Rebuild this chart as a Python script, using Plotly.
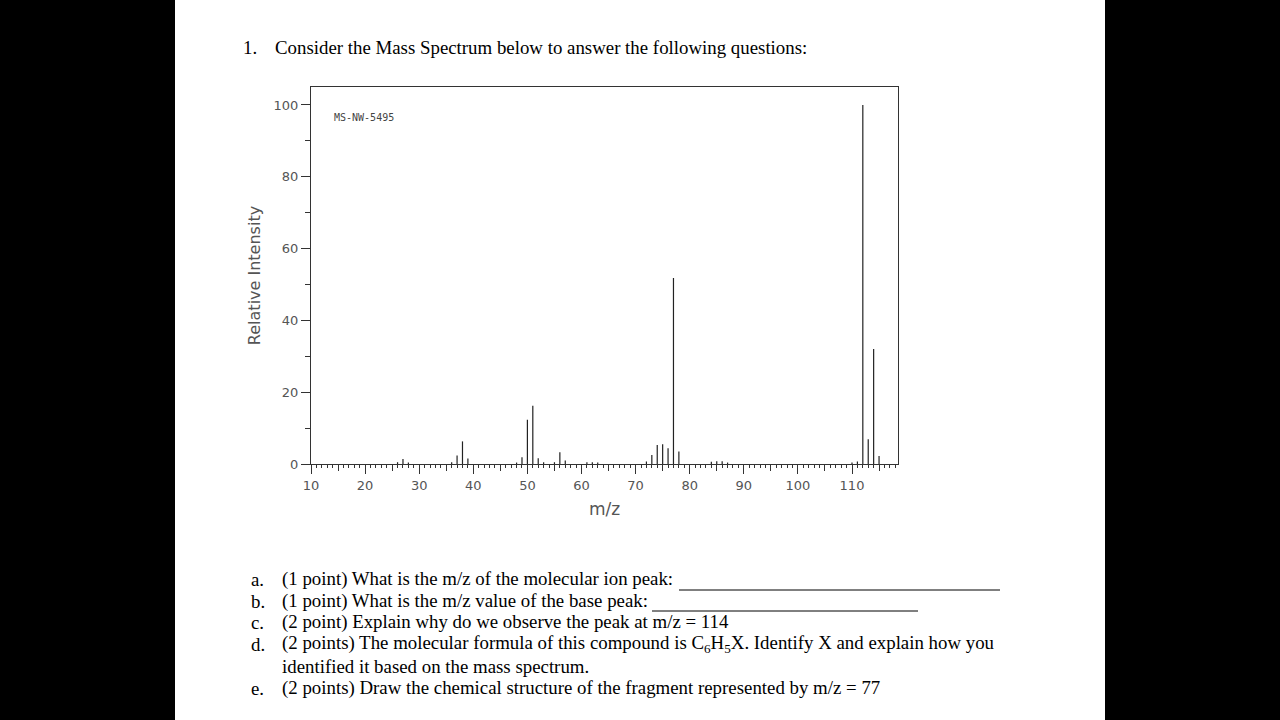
import plotly.graph_objects as go

# ---- data ----
mz = [26, 27, 28, 36, 37, 38, 39, 48, 49, 50, 51, 52, 53, 55, 56, 57, 61, 62, 63,
      72, 73, 74, 75, 76, 77, 78, 84, 85, 86, 87, 110, 111, 112, 113, 114, 115]
intensity = [0.5, 1.4, 0.4, 0.5, 2.4, 6.3, 1.5, 0.4, 1.9, 12.3, 16.2, 1.6, 0.5, 0.5, 3.3, 1.0, 0.5, 0.5, 0.4,
             0.7, 2.5, 5.3, 5.5, 4.4, 51.8, 3.5, 0.6, 0.8, 0.8, 0.4, 0.4, 0.7, 100.0, 6.9, 32.0, 2.2]
y_ticks = [0, 20, 40, 60, 80, 100]
x_ticks = [10, 20, 30, 40, 50, 60, 70, 80, 90, 100, 110]
spectrum_id = "MS-NW-5495"
heading_num = "1."
heading = "Consider the Mass Spectrum below to answer the following questions:"
q_labels = ["a.", "b.", "c.", "d.", "", "e."]
q_texts = [
    "(1 point) What is the m/z of the molecular ion peak:",
    "(1 point) What is the m/z value of the base peak:",
    "(2 point) Explain why do we observe the peak at m/z = 114",
    "(2 points) The molecular formula of this compound is C<sub>6</sub>H<sub>5</sub>X. Identify X and explain how you",
    "identified it based on the mass spectrum.",
    "(2 points) Draw the chemical structure of the fragment represented by m/z = 77",
]

# ---- layout geometry (pixels) ----
L, R, T, B = 311, 898, 87, 464
W, H = 1280, 720
pw, ph = R - L, B - T


def px(x):
    return (x - L) / pw


def py(y):
    return (B - y) / ph


xs, ys = [], []
for m, v in zip(mz, intensity):
    xs += [m, m, None]
    ys += [0, v, None]

fig = go.Figure()
fig.add_trace(go.Scatter(x=xs, y=ys, mode="lines",
                         line=dict(color="#222222", width=1.2),
                         hoverinfo="skip", showlegend=False))
# dummy trace for secondary axis (5-unit ticks)
fig.add_trace(go.Scatter(x=[10], y=[0], xaxis="x2", mode="markers",
                         marker=dict(opacity=0), showlegend=False, hoverinfo="skip"))

axis_font = dict(family="DejaVu Sans, Verdana, sans-serif", size=13, color="#555555")
xrange_ = [10, 10 + pw / 5.41]

fig.update_layout(
    width=W, height=H,
    margin=dict(l=L, r=W - R, t=T, b=H - B, pad=0),
    paper_bgcolor="white", plot_bgcolor="white",
    xaxis=dict(range=xrange_, tickvals=x_ticks, ticks="outside", ticklen=9,
               tickcolor="#333333", tickwidth=1, showline=True, linecolor="#333333",
               linewidth=1, mirror=True, showgrid=False, zeroline=False,
               tickfont=axis_font,
               minor=dict(dtick=1, tick0=10, ticks="outside", ticklen=3, tickcolor="#333333", showgrid=False),
               title=dict(text="m/z", font=dict(family="DejaVu Sans, sans-serif", size=17, color="#555555"),
                          standoff=11)),
    xaxis2=dict(range=xrange_, overlaying="x", side="bottom", tick0=5, dtick=10,
                ticks="outside", ticklen=6, tickcolor="#333333", showticklabels=False,
                showgrid=False, zeroline=False, showline=False),
    yaxis=dict(range=[0, 105], tickvals=y_ticks, ticks="outside", ticklen=9,
               tickcolor="#333333", showline=True, linecolor="#333333", linewidth=1,
               mirror=True, showgrid=False, zeroline=False, tickfont=axis_font,
               minor=dict(tickvals=[10, 30, 50, 70, 90], ticks="outside", ticklen=5, tickcolor="#333333", showgrid=False),
               title=dict(text="Relative Intensity",
                          font=dict(family="DejaVu Sans, sans-serif", size=16, color="#555555"),
                          standoff=8)),
    showlegend=False,
)

ann = []
serif = dict(family="Liberation Serif, Times New Roman, serif", size=18.85, color="black")
ann.append(dict(x=px(241), y=py(47), xref="paper", yref="paper", text=heading_num,
                showarrow=False, xanchor="left", yanchor="middle", font=serif))
ann.append(dict(x=px(273), y=py(47), xref="paper", yref="paper", text=heading,
                showarrow=False, xanchor="left", yanchor="middle", font=serif))
ann.append(dict(x=px(332), y=py(117), xref="paper", yref="paper", text=spectrum_id,
                showarrow=False, xanchor="left", yanchor="middle",
                font=dict(family="DejaVu Sans Mono, monospace", size=10, color="#444444")))
line_y = [579, 601, 622, 644, 666, 688]
for lab, txt, yy in zip(q_labels, q_texts, line_y):
    if lab:
        ann.append(dict(x=px(249), y=py(yy), xref="paper", yref="paper", text=lab,
                        showarrow=False, xanchor="left", yanchor="middle", font=serif))
    ann.append(dict(x=px(280), y=py(yy), xref="paper", yref="paper", text=txt,
                    showarrow=False, xanchor="left", yanchor="middle", font=serif))

shapes = [
    dict(type="rect", xref="paper", yref="paper", x0=px(0), x1=px(175), y0=py(H), y1=py(0),
         fillcolor="black", line=dict(width=0), layer="above"),
    dict(type="rect", xref="paper", yref="paper", x0=px(1105), x1=px(W), y0=py(H), y1=py(0),
         fillcolor="black", line=dict(width=0), layer="above"),
    dict(type="line", xref="paper", yref="paper", x0=px(679), x1=px(1000), y0=py(590), y1=py(590),
         line=dict(color="black", width=1)),
    dict(type="line", xref="paper", yref="paper", x0=px(652), x1=px(918), y0=py(611), y1=py(611),
         line=dict(color="black", width=1)),
]
fig.update_layout(annotations=ann, shapes=shapes)

fig.write_html("out.html")
